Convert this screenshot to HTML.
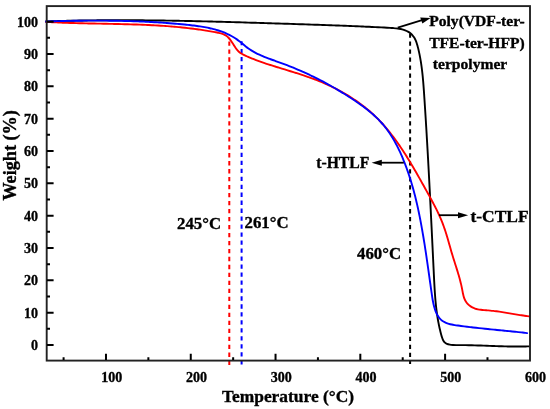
<!DOCTYPE html>
<html><head><meta charset="utf-8"><style>
html,body{margin:0;padding:0;background:#fff;}
svg{display:block;filter:blur(0.3px);}
text{font-family:"Liberation Serif","Times New Roman",serif;font-weight:bold;fill:#000;stroke:#000;stroke-width:0.35px;}
</style></head><body>
<svg width="550" height="409" viewBox="0 0 550 409">
<rect width="550" height="409" fill="#fff"/>
<g fill="none" stroke-width="2">
<path d="M229.3,39.5 V365" stroke="#ff0000" stroke-dasharray="4.3,3.68" stroke-dashoffset="6.08"/>
<path d="M241.6,41.2 V365" stroke="#0000ff" stroke-dasharray="4.3,3.68" stroke-dashoffset="0.20"/>
<path d="M410.1,33.2 V364" stroke="#000" stroke-dasharray="4.3,3.68" stroke-dashoffset="7.66"/>
</g>
<g fill="none" stroke-width="1.9" stroke-linejoin="round" stroke-linecap="round">
<path d="M45.99,21.46 C46.50,21.44 48.01,21.39 49.02,21.35 C50.02,21.32 51.03,21.29 52.04,21.25 C53.05,21.22 54.05,21.19 55.06,21.16 C56.07,21.13 57.07,21.10 58.08,21.07 C59.09,21.04 60.10,21.01 61.10,20.98 C62.11,20.95 63.12,20.92 64.12,20.90 C65.13,20.87 66.14,20.85 67.15,20.82 C68.15,20.80 69.16,20.77 70.17,20.75 C71.17,20.73 72.18,20.71 73.19,20.68 C74.19,20.66 75.20,20.64 76.21,20.62 C77.21,20.60 78.22,20.58 79.23,20.57 C80.24,20.55 81.24,20.53 82.25,20.51 C83.26,20.50 84.26,20.48 85.27,20.46 C86.28,20.45 87.28,20.43 88.29,20.42 C89.30,20.41 90.30,20.39 91.31,20.38 C92.32,20.37 93.32,20.36 94.33,20.35 C95.34,20.33 96.34,20.32 97.35,20.31 C98.36,20.30 99.36,20.30 100.37,20.29 C101.38,20.28 102.38,20.27 103.39,20.26 C104.40,20.26 105.40,20.25 106.41,20.24 C107.42,20.24 108.42,20.23 109.43,20.23 C110.44,20.23 111.44,20.22 112.45,20.22 C113.46,20.22 114.46,20.21 115.47,20.21 C116.48,20.21 117.48,20.21 118.49,20.21 C119.50,20.21 120.50,20.21 121.51,20.21 C122.52,20.21 123.52,20.21 124.53,20.21 C125.53,20.21 126.54,20.21 127.55,20.22 C128.55,20.22 129.56,20.22 130.57,20.23 C131.57,20.23 132.58,20.24 133.59,20.24 C134.59,20.25 135.60,20.25 136.61,20.26 C137.61,20.27 138.62,20.27 139.62,20.28 C140.63,20.29 141.64,20.29 142.64,20.30 C143.65,20.31 144.66,20.32 145.66,20.33 C146.67,20.34 147.68,20.35 148.68,20.36 C149.69,20.37 150.70,20.38 151.70,20.39 C152.71,20.40 153.71,20.41 154.72,20.43 C155.73,20.44 156.73,20.45 157.74,20.47 C158.75,20.48 159.75,20.49 160.76,20.51 C161.76,20.52 162.77,20.54 163.78,20.55 C164.78,20.57 165.79,20.58 166.80,20.60 C167.80,20.61 168.81,20.63 169.82,20.65 C170.82,20.66 171.83,20.68 172.83,20.70 C173.84,20.71 174.85,20.73 175.85,20.75 C176.86,20.77 177.87,20.79 178.87,20.81 C179.88,20.83 180.88,20.85 181.89,20.87 C182.90,20.88 183.90,20.91 184.91,20.93 C185.92,20.95 186.92,20.97 187.93,20.99 C188.94,21.01 189.94,21.03 190.95,21.05 C191.95,21.08 192.96,21.10 193.97,21.12 C194.97,21.14 195.98,21.17 196.99,21.19 C197.99,21.21 199.00,21.24 200.00,21.26 C201.01,21.28 202.02,21.31 203.02,21.33 C204.03,21.36 205.04,21.38 206.04,21.41 C207.05,21.43 208.06,21.46 209.06,21.48 C210.07,21.51 211.07,21.53 212.08,21.56 C213.09,21.59 214.09,21.61 215.10,21.64 C216.11,21.67 217.11,21.69 218.12,21.72 C219.13,21.75 220.13,21.77 221.14,21.80 C222.14,21.83 223.15,21.86 224.16,21.88 C225.16,21.91 226.17,21.94 227.18,21.97 C228.18,22.00 229.19,22.03 230.20,22.05 C231.20,22.08 232.21,22.11 233.21,22.14 C234.22,22.17 235.23,22.20 236.23,22.23 C237.24,22.26 238.25,22.29 239.25,22.32 C240.26,22.35 241.27,22.38 242.27,22.41 C243.28,22.44 244.29,22.47 245.29,22.50 C246.30,22.53 247.31,22.56 248.31,22.59 C249.32,22.62 250.33,22.65 251.33,22.68 C252.34,22.71 253.34,22.74 254.35,22.77 C255.36,22.80 256.36,22.83 257.37,22.87 C258.38,22.90 259.38,22.93 260.39,22.96 C261.40,22.99 262.40,23.02 263.41,23.05 C264.42,23.09 265.42,23.12 266.43,23.15 C267.44,23.18 268.44,23.21 269.45,23.24 C270.46,23.27 271.46,23.31 272.47,23.34 C273.48,23.37 274.48,23.40 275.49,23.43 C276.50,23.47 277.50,23.50 278.51,23.53 C279.52,23.56 280.53,23.59 281.53,23.62 C282.54,23.66 283.55,23.69 284.55,23.72 C285.56,23.75 286.57,23.78 287.57,23.81 C288.58,23.85 289.59,23.88 290.59,23.91 C291.60,23.94 292.61,23.97 293.61,24.01 C294.62,24.04 295.63,24.07 296.63,24.10 C297.64,24.14 298.65,24.17 299.66,24.20 C300.66,24.23 301.67,24.26 302.68,24.30 C303.68,24.33 304.69,24.36 305.70,24.40 C306.70,24.43 307.71,24.46 308.72,24.50 C309.72,24.53 310.73,24.56 311.74,24.60 C312.74,24.63 313.75,24.66 314.76,24.70 C315.76,24.73 316.77,24.77 317.78,24.80 C318.78,24.83 319.79,24.87 320.80,24.90 C321.80,24.94 322.81,24.97 323.81,25.01 C324.82,25.04 325.83,25.08 326.83,25.12 C327.84,25.15 328.85,25.19 329.85,25.22 C330.86,25.26 331.86,25.30 332.87,25.33 C333.88,25.37 334.88,25.41 335.89,25.44 C336.89,25.48 337.90,25.52 338.91,25.56 C339.91,25.60 340.92,25.63 341.92,25.67 C342.93,25.71 343.93,25.75 344.94,25.79 C345.94,25.83 346.95,25.87 347.96,25.91 C348.96,25.95 349.97,25.99 350.97,26.03 C351.98,26.07 352.98,26.12 353.99,26.16 C354.99,26.20 356.00,26.24 357.00,26.28 C358.01,26.33 359.01,26.37 360.01,26.41 C361.02,26.46 362.02,26.50 363.03,26.55 C364.03,26.59 365.04,26.64 366.04,26.68 C367.04,26.73 368.05,26.77 369.05,26.82 C370.06,26.87 371.06,26.91 372.06,26.96 C373.07,27.01 374.07,27.06 375.07,27.10 C376.08,27.15 377.08,27.20 378.08,27.25 C379.09,27.30 380.09,27.35 381.09,27.40 C382.10,27.45 383.10,27.50 384.10,27.55 C385.11,27.61 386.11,27.66 387.11,27.71 C388.11,27.77 389.11,27.82 390.12,27.87 C391.12,27.93 392.12,27.98 393.12,28.05 C394.13,28.13 395.13,28.20 396.14,28.32 C397.14,28.44 398.15,28.57 399.16,28.76 C400.17,28.94 401.19,29.16 402.19,29.43 C403.18,29.71 404.19,30.02 405.15,30.39 C406.10,30.77 407.05,31.19 407.93,31.67 C408.81,32.15 409.66,32.68 410.42,33.28 C411.19,33.88 411.90,34.54 412.53,35.26 C413.16,35.98 413.71,36.76 414.22,37.58 C414.73,38.40 415.17,39.28 415.57,40.18 C415.98,41.08 416.33,42.02 416.65,42.97 C416.98,43.93 417.26,44.92 417.54,45.90 C417.81,46.89 418.06,47.89 418.30,48.89 C418.54,49.88 418.77,50.88 418.99,51.88 C419.21,52.88 419.42,53.88 419.62,54.87 C419.82,55.87 420.01,56.87 420.19,57.87 C420.38,58.87 420.55,59.87 420.71,60.87 C420.88,61.87 421.03,62.87 421.18,63.87 C421.33,64.87 421.47,65.87 421.61,66.87 C421.74,67.87 421.87,68.87 421.99,69.88 C422.12,70.88 422.23,71.88 422.34,72.88 C422.45,73.88 422.56,74.88 422.66,75.89 C422.76,76.89 422.85,77.89 422.94,78.89 C423.03,79.90 423.12,80.90 423.21,81.90 C423.29,82.90 423.37,83.91 423.45,84.91 C423.53,85.91 423.60,86.92 423.67,87.92 C423.75,88.92 423.82,89.92 423.89,90.93 C423.96,91.93 424.03,92.93 424.10,93.94 C424.16,94.94 424.23,95.94 424.30,96.95 C424.37,97.95 424.43,98.95 424.50,99.96 C424.57,100.96 424.63,101.96 424.70,102.97 C424.76,103.97 424.83,104.97 424.89,105.98 C424.96,106.98 425.02,107.98 425.09,108.98 C425.15,109.99 425.22,110.99 425.28,111.99 C425.34,113.00 425.41,114.00 425.47,115.00 C425.53,116.01 425.60,117.01 425.66,118.01 C425.72,119.02 425.79,120.02 425.85,121.02 C425.91,122.03 425.97,123.03 426.03,124.03 C426.09,125.04 426.15,126.04 426.22,127.04 C426.28,128.05 426.34,129.05 426.40,130.05 C426.46,131.06 426.52,132.06 426.58,133.07 C426.64,134.07 426.70,135.07 426.75,136.08 C426.81,137.08 426.87,138.08 426.93,139.09 C426.99,140.09 427.05,141.09 427.11,142.10 C427.16,143.10 427.22,144.10 427.28,145.11 C427.34,146.11 427.39,147.12 427.45,148.12 C427.51,149.12 427.57,150.13 427.62,151.13 C427.68,152.14 427.74,153.14 427.79,154.14 C427.85,155.15 427.90,156.15 427.96,157.15 C428.02,158.16 428.07,159.16 428.13,160.17 C428.18,161.17 428.24,162.18 428.29,163.18 C428.35,164.18 428.40,165.19 428.46,166.19 C428.51,167.20 428.56,168.20 428.62,169.20 C428.67,170.21 428.73,171.21 428.78,172.22 C428.83,173.22 428.89,174.23 428.94,175.23 C428.99,176.24 429.05,177.24 429.10,178.24 C429.15,179.25 429.21,180.25 429.26,181.26 C429.31,182.26 429.36,183.27 429.42,184.27 C429.47,185.28 429.52,186.28 429.57,187.29 C429.62,188.29 429.68,189.30 429.73,190.30 C429.78,191.31 429.83,192.31 429.88,193.32 C429.93,194.32 429.98,195.33 430.04,196.33 C430.09,197.34 430.14,198.34 430.19,199.35 C430.24,200.35 430.29,201.36 430.34,202.36 C430.39,203.37 430.44,204.37 430.49,205.38 C430.54,206.39 430.59,207.39 430.64,208.40 C430.69,209.40 430.74,210.41 430.79,211.41 C430.84,212.42 430.89,213.43 430.94,214.43 C430.99,215.44 431.04,216.44 431.09,217.45 C431.14,218.46 431.19,219.46 431.24,220.47 C431.29,221.47 431.34,222.48 431.39,223.49 C431.44,224.49 431.49,225.50 431.54,226.51 C431.59,227.51 431.64,228.52 431.69,229.53 C431.74,230.53 431.78,231.54 431.83,232.55 C431.88,233.55 431.93,234.56 431.98,235.57 C432.03,236.57 432.08,237.58 432.13,238.59 C432.18,239.59 432.22,240.60 432.27,241.61 C432.32,242.62 432.37,243.62 432.42,244.63 C432.47,245.64 432.52,246.65 432.57,247.65 C432.61,248.66 432.66,249.67 432.71,250.68 C432.76,251.68 432.81,252.69 432.86,253.70 C432.91,254.71 432.96,255.72 433.00,256.72 C433.05,257.73 433.10,258.74 433.15,259.75 C433.20,260.76 433.25,261.77 433.30,262.77 C433.34,263.78 433.39,264.79 433.44,265.80 C433.49,266.81 433.54,267.82 433.59,268.83 C433.64,269.83 433.69,270.84 433.74,271.85 C433.78,272.86 433.83,273.87 433.88,274.88 C433.93,275.89 433.98,276.90 434.03,277.91 C434.08,278.92 434.13,279.93 434.18,280.93 C434.23,281.94 434.29,282.95 434.34,283.96 C434.39,284.97 434.45,285.98 434.51,286.99 C434.57,288.00 434.63,289.00 434.69,290.01 C434.75,291.02 434.82,292.02 434.89,293.03 C434.96,294.04 435.03,295.04 435.11,296.05 C435.18,297.05 435.26,298.06 435.35,299.06 C435.43,300.06 435.52,301.07 435.62,302.07 C435.71,303.07 435.81,304.07 435.91,305.07 C436.02,306.07 436.13,307.07 436.24,308.07 C436.36,309.06 436.48,310.06 436.61,311.06 C436.74,312.05 436.87,313.04 437.02,314.04 C437.16,315.03 437.31,316.02 437.46,317.01 C437.62,318.00 437.78,318.99 437.96,319.97 C438.13,320.96 438.31,321.95 438.50,322.93 C438.69,323.91 438.89,324.89 439.09,325.87 C439.30,326.85 439.52,327.83 439.74,328.81 C439.97,329.78 440.20,330.76 440.45,331.73 C440.70,332.70 440.95,333.67 441.22,334.64 C441.49,335.60 441.75,336.59 442.07,337.52 C442.39,338.45 442.72,339.38 443.15,340.20 C443.59,341.01 444.07,341.79 444.70,342.42 C445.33,343.04 446.08,343.54 446.94,343.92 C447.79,344.30 448.82,344.51 449.82,344.69 C450.83,344.88 451.91,344.95 452.96,345.02 C454.01,345.09 455.08,345.11 456.15,345.12 C457.21,345.14 458.28,345.12 459.34,345.12 C460.39,345.13 461.45,345.13 462.50,345.13 C463.54,345.14 464.59,345.15 465.62,345.16 C466.66,345.17 467.69,345.19 468.72,345.21 C469.75,345.23 470.78,345.25 471.80,345.27 C472.82,345.30 473.83,345.32 474.84,345.35 C475.86,345.38 476.87,345.41 477.87,345.44 C478.88,345.47 479.88,345.51 480.88,345.54 C481.88,345.57 482.88,345.61 483.88,345.65 C484.88,345.68 485.87,345.72 486.86,345.76 C487.86,345.79 488.85,345.83 489.84,345.87 C490.83,345.90 491.82,345.94 492.81,345.98 C493.80,346.01 494.78,346.05 495.77,346.09 C496.76,346.12 497.75,346.16 498.74,346.19 C499.73,346.22 500.72,346.25 501.71,346.28 C502.70,346.31 503.69,346.34 504.68,346.37 C505.68,346.39 506.67,346.42 507.67,346.44 C508.66,346.46 509.66,346.48 510.66,346.49 C511.66,346.51 512.67,346.52 513.67,346.53 C514.68,346.54 515.69,346.55 516.70,346.55 C517.71,346.55 518.73,346.55 519.75,346.54 C520.77,346.54 521.79,346.53 522.82,346.51 C523.85,346.50 524.88,346.48 525.92,346.46 C526.96,346.43 528.53,346.38 529.05,346.37" stroke="#000"/>
<path d="M45.99,21.87 C46.50,21.90 48.00,21.99 49.01,22.04 C50.01,22.10 51.02,22.15 52.02,22.20 C53.03,22.26 54.04,22.31 55.04,22.35 C56.05,22.40 57.05,22.45 58.06,22.49 C59.07,22.54 60.07,22.58 61.08,22.62 C62.09,22.66 63.09,22.70 64.10,22.74 C65.11,22.78 66.11,22.81 67.12,22.85 C68.13,22.89 69.14,22.92 70.14,22.95 C71.15,22.98 72.16,23.02 73.17,23.05 C74.17,23.08 75.18,23.10 76.19,23.13 C77.20,23.16 78.21,23.19 79.21,23.21 C80.22,23.24 81.23,23.26 82.24,23.29 C83.25,23.31 84.26,23.34 85.26,23.36 C86.27,23.38 87.28,23.41 88.29,23.43 C89.30,23.45 90.31,23.47 91.32,23.49 C92.32,23.51 93.33,23.53 94.34,23.55 C95.35,23.57 96.36,23.59 97.37,23.61 C98.38,23.63 99.39,23.65 100.40,23.67 C101.40,23.69 102.41,23.71 103.42,23.73 C104.43,23.75 105.44,23.77 106.45,23.79 C107.46,23.81 108.47,23.83 109.48,23.85 C110.49,23.87 111.49,23.89 112.50,23.91 C113.51,23.93 114.52,23.95 115.53,23.97 C116.54,23.99 117.55,24.01 118.56,24.04 C119.57,24.06 120.58,24.08 121.59,24.11 C122.59,24.13 123.60,24.16 124.61,24.18 C125.62,24.21 126.63,24.24 127.64,24.26 C128.65,24.29 129.66,24.32 130.66,24.35 C131.67,24.38 132.68,24.41 133.69,24.45 C134.70,24.48 135.71,24.51 136.72,24.55 C137.72,24.58 138.73,24.62 139.74,24.66 C140.75,24.69 141.76,24.73 142.77,24.77 C143.77,24.82 144.78,24.86 145.79,24.90 C146.80,24.95 147.80,24.99 148.81,25.04 C149.82,25.09 150.83,25.14 151.83,25.19 C152.84,25.24 153.85,25.30 154.86,25.35 C155.86,25.41 156.87,25.46 157.88,25.52 C158.88,25.58 159.89,25.65 160.90,25.71 C161.90,25.78 162.91,25.84 163.92,25.91 C164.92,25.98 165.93,26.05 166.93,26.13 C167.94,26.20 168.95,26.28 169.95,26.36 C170.96,26.44 171.96,26.52 172.97,26.61 C173.97,26.69 174.98,26.78 175.98,26.87 C176.99,26.96 177.99,27.05 178.99,27.15 C180.00,27.25 181.00,27.35 182.01,27.45 C183.01,27.55 184.01,27.66 185.02,27.77 C186.02,27.88 187.02,27.99 188.03,28.11 C189.03,28.22 190.03,28.34 191.03,28.46 C192.04,28.59 193.04,28.71 194.04,28.84 C195.04,28.97 196.04,29.11 197.05,29.25 C198.05,29.38 199.05,29.52 200.05,29.67 C201.05,29.81 202.05,29.96 203.05,30.12 C204.05,30.27 205.05,30.43 206.05,30.59 C207.05,30.75 208.05,30.91 209.05,31.08 C210.05,31.25 211.05,31.43 212.05,31.60 C213.04,31.78 214.04,31.96 215.04,32.15 C216.04,32.34 217.04,32.52 218.03,32.73 C219.01,32.95 220.00,33.16 220.95,33.44 C221.90,33.72 222.85,34.02 223.73,34.41 C224.62,34.81 225.48,35.25 226.28,35.80 C227.08,36.35 227.82,37.00 228.52,37.71 C229.22,38.43 229.86,39.25 230.48,40.08 C231.10,40.91 231.68,41.82 232.26,42.70 C232.84,43.59 233.38,44.50 233.95,45.38 C234.52,46.26 235.08,47.15 235.68,47.98 C236.28,48.81 236.89,49.63 237.56,50.36 C238.23,51.10 238.94,51.78 239.71,52.40 C240.48,53.01 241.32,53.54 242.18,54.05 C243.03,54.56 243.94,55.00 244.85,55.43 C245.76,55.87 246.70,56.27 247.62,56.67 C248.55,57.07 249.49,57.46 250.42,57.85 C251.36,58.23 252.29,58.61 253.23,58.98 C254.17,59.35 255.11,59.71 256.05,60.07 C257.00,60.42 257.94,60.77 258.89,61.12 C259.83,61.46 260.78,61.80 261.73,62.13 C262.68,62.46 263.63,62.79 264.58,63.12 C265.53,63.44 266.49,63.76 267.44,64.07 C268.40,64.39 269.35,64.70 270.31,65.01 C271.27,65.31 272.22,65.62 273.18,65.92 C274.14,66.22 275.10,66.52 276.06,66.82 C277.02,67.12 277.98,67.41 278.94,67.71 C279.90,68.00 280.86,68.29 281.83,68.59 C282.79,68.88 283.75,69.17 284.71,69.46 C285.67,69.75 286.63,70.05 287.60,70.34 C288.56,70.63 289.52,70.92 290.48,71.22 C291.44,71.51 292.40,71.81 293.37,72.10 C294.33,72.40 295.29,72.70 296.25,73.00 C297.21,73.30 298.17,73.61 299.12,73.91 C300.08,74.22 301.04,74.53 302.00,74.85 C302.95,75.16 303.91,75.48 304.86,75.80 C305.82,76.12 306.77,76.45 307.72,76.78 C308.67,77.12 309.63,77.45 310.57,77.80 C311.52,78.14 312.47,78.49 313.42,78.84 C314.36,79.20 315.31,79.56 316.25,79.93 C317.19,80.30 318.13,80.67 319.07,81.05 C320.01,81.43 320.95,81.82 321.88,82.22 C322.81,82.61 323.75,83.02 324.67,83.42 C325.60,83.83 326.53,84.25 327.45,84.67 C328.38,85.09 329.30,85.52 330.21,85.96 C331.13,86.40 332.04,86.84 332.96,87.29 C333.87,87.74 334.77,88.20 335.68,88.66 C336.58,89.12 337.48,89.59 338.38,90.07 C339.27,90.55 340.17,91.03 341.05,91.53 C341.94,92.02 342.83,92.52 343.71,93.02 C344.58,93.53 345.46,94.04 346.33,94.56 C347.20,95.08 348.07,95.61 348.93,96.14 C349.79,96.67 350.64,97.21 351.50,97.76 C352.35,98.31 353.19,98.87 354.03,99.43 C354.87,99.99 355.71,100.56 356.54,101.13 C357.37,101.71 358.19,102.29 359.01,102.89 C359.82,103.48 360.64,104.07 361.44,104.68 C362.25,105.28 363.05,105.90 363.84,106.52 C364.63,107.13 365.42,107.76 366.20,108.39 C366.98,109.03 367.75,109.67 368.52,110.32 C369.29,110.97 370.05,111.62 370.80,112.29 C371.55,112.95 372.29,113.62 373.03,114.30 C373.77,114.97 374.50,115.66 375.22,116.35 C375.95,117.04 376.66,117.74 377.37,118.45 C378.08,119.16 378.78,119.87 379.47,120.59 C380.16,121.31 380.85,122.04 381.53,122.77 C382.21,123.50 382.88,124.24 383.55,124.99 C384.22,125.74 384.87,126.49 385.53,127.25 C386.18,128.01 386.83,128.77 387.47,129.54 C388.11,130.31 388.75,131.08 389.38,131.87 C390.00,132.65 390.63,133.43 391.25,134.22 C391.86,135.01 392.48,135.81 393.08,136.61 C393.69,137.41 394.29,138.22 394.89,139.03 C395.48,139.84 396.07,140.65 396.66,141.47 C397.25,142.29 397.83,143.12 398.41,143.94 C398.98,144.77 399.56,145.60 400.12,146.44 C400.69,147.27 401.26,148.11 401.82,148.95 C402.37,149.79 402.93,150.64 403.48,151.49 C404.03,152.34 404.58,153.19 405.13,154.04 C405.67,154.90 406.21,155.76 406.75,156.62 C407.28,157.48 407.82,158.34 408.35,159.20 C408.88,160.07 409.41,160.94 409.93,161.81 C410.45,162.67 410.98,163.55 411.50,164.42 C412.01,165.29 412.53,166.17 413.04,167.04 C413.56,167.92 414.07,168.80 414.58,169.68 C415.09,170.56 415.60,171.44 416.10,172.32 C416.61,173.20 417.11,174.08 417.61,174.97 C418.11,175.85 418.61,176.73 419.11,177.62 C419.61,178.50 420.11,179.38 420.60,180.27 C421.10,181.15 421.59,182.04 422.09,182.92 C422.58,183.81 423.07,184.69 423.56,185.57 C424.06,186.46 424.55,187.34 425.04,188.22 C425.53,189.11 426.02,189.99 426.51,190.87 C427.00,191.75 427.49,192.63 427.98,193.51 C428.47,194.39 428.95,195.27 429.44,196.15 C429.92,197.03 430.40,197.91 430.88,198.79 C431.36,199.68 431.84,200.56 432.31,201.44 C432.78,202.33 433.25,203.21 433.72,204.10 C434.18,204.98 434.64,205.87 435.10,206.76 C435.55,207.65 436.00,208.55 436.45,209.44 C436.89,210.34 437.33,211.24 437.76,212.14 C438.19,213.04 438.61,213.94 439.03,214.85 C439.45,215.76 439.85,216.67 440.25,217.59 C440.65,218.51 441.05,219.43 441.43,220.36 C441.81,221.28 442.19,222.21 442.55,223.15 C442.91,224.09 443.27,225.03 443.61,225.97 C443.95,226.92 444.29,227.87 444.61,228.83 C444.94,229.79 445.25,230.75 445.57,231.71 C445.88,232.67 446.18,233.64 446.48,234.61 C446.77,235.58 447.07,236.56 447.35,237.53 C447.64,238.50 447.93,239.48 448.21,240.46 C448.49,241.43 448.77,242.41 449.04,243.39 C449.32,244.37 449.60,245.35 449.87,246.32 C450.15,247.30 450.43,248.28 450.71,249.25 C450.98,250.22 451.26,251.20 451.54,252.17 C451.83,253.14 452.11,254.10 452.40,255.07 C452.69,256.03 452.99,256.99 453.28,257.95 C453.58,258.91 453.88,259.86 454.19,260.81 C454.49,261.77 454.79,262.72 455.10,263.67 C455.40,264.62 455.70,265.57 456.01,266.52 C456.31,267.47 456.61,268.42 456.91,269.37 C457.21,270.32 457.51,271.28 457.80,272.23 C458.09,273.19 458.38,274.14 458.66,275.11 C458.94,276.07 459.21,277.03 459.48,278.00 C459.75,278.97 460.01,279.94 460.26,280.92 C460.51,281.90 460.76,282.89 460.99,283.88 C461.22,284.87 461.44,285.86 461.65,286.87 C461.86,287.87 462.05,288.89 462.25,289.90 C462.45,290.92 462.62,291.94 462.83,292.95 C463.05,293.96 463.26,294.96 463.53,295.94 C463.81,296.91 464.11,297.87 464.49,298.79 C464.87,299.71 465.31,300.60 465.84,301.43 C466.36,302.27 466.97,303.06 467.63,303.79 C468.29,304.52 469.03,305.20 469.81,305.80 C470.59,306.40 471.43,306.94 472.30,307.40 C473.16,307.85 474.08,308.22 475.02,308.54 C475.95,308.86 476.93,309.10 477.92,309.32 C478.91,309.53 479.93,309.68 480.95,309.81 C481.97,309.95 483.01,310.04 484.05,310.13 C485.09,310.22 486.14,310.28 487.17,310.35 C488.21,310.43 489.25,310.50 490.27,310.59 C491.29,310.68 492.30,310.78 493.30,310.89 C494.31,311.00 495.30,311.13 496.29,311.26 C497.28,311.39 498.27,311.53 499.25,311.67 C500.24,311.82 501.22,311.97 502.20,312.12 C503.18,312.28 504.16,312.44 505.15,312.60 C506.13,312.77 507.12,312.93 508.11,313.10 C509.11,313.27 510.10,313.44 511.10,313.60 C512.10,313.77 513.11,313.94 514.11,314.11 C515.12,314.27 516.12,314.44 517.13,314.60 C518.13,314.77 519.14,314.93 520.14,315.09 C521.14,315.25 522.15,315.40 523.15,315.55 C524.14,315.70 525.14,315.85 526.13,315.99 C527.13,316.13 528.60,316.33 529.10,316.40" stroke="#ff0000"/>
<path d="M45.98,21.43 C46.49,21.42 48.02,21.37 49.04,21.35 C50.05,21.32 51.07,21.29 52.09,21.26 C53.10,21.24 54.12,21.21 55.13,21.18 C56.15,21.16 57.16,21.13 58.18,21.11 C59.19,21.09 60.21,21.06 61.22,21.04 C62.23,21.02 63.24,20.99 64.25,20.97 C65.27,20.95 66.28,20.93 67.29,20.91 C68.30,20.89 69.31,20.87 70.32,20.86 C71.33,20.84 72.34,20.82 73.35,20.81 C74.36,20.79 75.36,20.77 76.37,20.76 C77.38,20.75 78.39,20.73 79.40,20.72 C80.40,20.71 81.41,20.70 82.42,20.69 C83.42,20.68 84.43,20.67 85.43,20.66 C86.44,20.65 87.45,20.64 88.45,20.64 C89.46,20.63 90.46,20.63 91.47,20.62 C92.47,20.62 93.47,20.62 94.48,20.61 C95.48,20.61 96.49,20.61 97.49,20.61 C98.49,20.61 99.50,20.62 100.50,20.62 C101.50,20.62 102.51,20.63 103.51,20.63 C104.51,20.64 105.51,20.64 106.52,20.65 C107.52,20.66 108.52,20.67 109.52,20.68 C110.52,20.69 111.53,20.70 112.53,20.72 C113.53,20.73 114.53,20.75 115.53,20.76 C116.54,20.78 117.54,20.80 118.54,20.82 C119.54,20.84 120.54,20.86 121.54,20.88 C122.55,20.90 123.55,20.92 124.55,20.95 C125.55,20.97 126.55,21.00 127.55,21.03 C128.56,21.06 129.56,21.09 130.56,21.12 C131.56,21.15 132.56,21.18 133.56,21.22 C134.57,21.25 135.57,21.29 136.57,21.33 C137.57,21.36 138.58,21.40 139.58,21.44 C140.58,21.49 141.58,21.53 142.59,21.57 C143.59,21.62 144.59,21.66 145.59,21.71 C146.60,21.76 147.60,21.81 148.60,21.86 C149.61,21.91 150.61,21.97 151.62,22.02 C152.62,22.08 153.62,22.13 154.63,22.19 C155.63,22.25 156.64,22.31 157.64,22.38 C158.65,22.44 159.65,22.50 160.66,22.57 C161.67,22.64 162.67,22.71 163.68,22.78 C164.69,22.85 165.69,22.92 166.70,22.99 C167.71,23.07 168.72,23.15 169.72,23.22 C170.73,23.30 171.74,23.38 172.75,23.47 C173.76,23.55 174.77,23.63 175.78,23.72 C176.79,23.81 177.80,23.90 178.81,23.99 C179.82,24.08 180.83,24.17 181.84,24.27 C182.86,24.37 183.87,24.46 184.88,24.56 C185.89,24.66 186.91,24.77 187.92,24.87 C188.93,24.98 189.95,25.09 190.96,25.20 C191.97,25.31 192.99,25.43 194.00,25.56 C195.01,25.68 196.02,25.81 197.03,25.95 C198.03,26.08 199.04,26.23 200.04,26.38 C201.05,26.53 202.05,26.69 203.04,26.86 C204.04,27.03 205.04,27.21 206.03,27.40 C207.02,27.59 208.01,27.79 208.99,28.00 C209.97,28.22 210.95,28.44 211.92,28.68 C212.90,28.92 213.86,29.16 214.83,29.43 C215.79,29.69 216.75,29.97 217.70,30.27 C218.65,30.56 219.59,30.87 220.53,31.20 C221.47,31.53 222.40,31.87 223.32,32.23 C224.25,32.59 225.16,32.97 226.07,33.37 C226.98,33.77 227.88,34.18 228.77,34.62 C229.66,35.06 230.54,35.51 231.41,35.99 C232.29,36.47 233.15,36.97 234.01,37.50 C234.86,38.02 235.70,38.57 236.54,39.14 C237.37,39.71 238.19,40.30 239.00,40.92 C239.81,41.54 240.60,42.18 241.39,42.83 C242.17,43.48 242.93,44.16 243.71,44.81 C244.48,45.45 245.25,46.10 246.04,46.71 C246.83,47.33 247.63,47.92 248.44,48.49 C249.25,49.06 250.07,49.60 250.90,50.13 C251.73,50.66 252.58,51.17 253.43,51.66 C254.29,52.15 255.16,52.62 256.03,53.07 C256.91,53.53 257.80,53.97 258.70,54.39 C259.60,54.82 260.51,55.23 261.42,55.63 C262.33,56.03 263.26,56.42 264.19,56.80 C265.12,57.18 266.05,57.55 266.99,57.91 C267.94,58.27 268.88,58.63 269.83,58.98 C270.78,59.33 271.73,59.67 272.69,60.01 C273.64,60.36 274.60,60.69 275.56,61.03 C276.52,61.37 277.48,61.71 278.43,62.05 C279.39,62.39 280.35,62.73 281.31,63.08 C282.26,63.42 283.21,63.77 284.16,64.13 C285.11,64.48 286.06,64.84 287.01,65.20 C287.95,65.56 288.89,65.93 289.83,66.30 C290.77,66.67 291.71,67.05 292.65,67.43 C293.58,67.81 294.52,68.19 295.45,68.58 C296.38,68.97 297.31,69.36 298.23,69.76 C299.16,70.15 300.08,70.56 301.00,70.96 C301.92,71.37 302.84,71.77 303.76,72.19 C304.68,72.60 305.59,73.02 306.51,73.44 C307.42,73.86 308.33,74.29 309.24,74.72 C310.15,75.15 311.05,75.58 311.96,76.02 C312.86,76.45 313.76,76.90 314.66,77.34 C315.56,77.79 316.46,78.24 317.35,78.69 C318.25,79.14 319.14,79.60 320.04,80.06 C320.93,80.52 321.82,80.99 322.71,81.46 C323.59,81.93 324.48,82.40 325.36,82.88 C326.25,83.36 327.13,83.84 328.01,84.32 C328.89,84.81 329.77,85.30 330.64,85.79 C331.52,86.28 332.39,86.78 333.27,87.28 C334.14,87.78 335.01,88.28 335.88,88.79 C336.75,89.30 337.62,89.81 338.48,90.32 C339.35,90.84 340.21,91.36 341.07,91.88 C341.94,92.40 342.80,92.93 343.66,93.46 C344.52,93.99 345.37,94.52 346.23,95.06 C347.08,95.59 347.94,96.13 348.79,96.68 C349.64,97.22 350.49,97.77 351.34,98.32 C352.19,98.87 353.04,99.43 353.88,99.99 C354.73,100.55 355.57,101.12 356.40,101.69 C357.24,102.26 358.07,102.83 358.90,103.41 C359.73,103.99 360.56,104.58 361.38,105.17 C362.19,105.76 363.01,106.36 363.82,106.96 C364.63,107.57 365.43,108.18 366.22,108.80 C367.02,109.42 367.81,110.04 368.59,110.68 C369.37,111.31 370.15,111.95 370.91,112.60 C371.68,113.25 372.44,113.90 373.19,114.57 C373.93,115.24 374.68,115.91 375.41,116.59 C376.14,117.28 376.86,117.97 377.57,118.67 C378.28,119.37 378.98,120.08 379.67,120.81 C380.36,121.53 381.03,122.26 381.70,123.00 C382.37,123.74 383.02,124.50 383.66,125.26 C384.30,126.03 384.93,126.80 385.55,127.59 C386.16,128.38 386.77,129.17 387.36,129.98 C387.95,130.79 388.53,131.61 389.10,132.43 C389.67,133.26 390.22,134.10 390.77,134.94 C391.31,135.79 391.85,136.64 392.37,137.50 C392.90,138.36 393.41,139.23 393.91,140.11 C394.42,140.98 394.91,141.87 395.39,142.76 C395.87,143.64 396.35,144.54 396.81,145.44 C397.28,146.34 397.73,147.25 398.18,148.16 C398.63,149.07 399.06,149.99 399.49,150.91 C399.92,151.83 400.35,152.75 400.76,153.68 C401.17,154.61 401.58,155.54 401.98,156.47 C402.38,157.40 402.77,158.34 403.16,159.28 C403.54,160.21 403.92,161.15 404.29,162.09 C404.67,163.03 405.03,163.98 405.39,164.92 C405.75,165.86 406.10,166.81 406.45,167.76 C406.80,168.71 407.14,169.65 407.47,170.60 C407.81,171.55 408.14,172.51 408.46,173.46 C408.78,174.41 409.10,175.37 409.41,176.32 C409.72,177.28 410.03,178.24 410.33,179.20 C410.63,180.16 410.93,181.12 411.22,182.08 C411.51,183.04 411.79,184.00 412.07,184.97 C412.35,185.93 412.63,186.90 412.90,187.86 C413.17,188.83 413.44,189.80 413.70,190.77 C413.96,191.74 414.22,192.71 414.47,193.68 C414.72,194.65 414.97,195.62 415.21,196.60 C415.46,197.57 415.70,198.55 415.93,199.52 C416.17,200.50 416.40,201.48 416.63,202.45 C416.86,203.43 417.08,204.41 417.30,205.39 C417.52,206.37 417.74,207.35 417.95,208.33 C418.17,209.31 418.38,210.30 418.59,211.28 C418.79,212.26 419.00,213.25 419.20,214.23 C419.40,215.22 419.60,216.20 419.79,217.19 C419.99,218.18 420.18,219.16 420.37,220.15 C420.56,221.14 420.75,222.13 420.93,223.12 C421.12,224.11 421.30,225.10 421.48,226.09 C421.66,227.08 421.84,228.07 422.01,229.06 C422.19,230.05 422.36,231.04 422.53,232.04 C422.70,233.03 422.87,234.02 423.04,235.02 C423.21,236.01 423.38,237.00 423.54,238.00 C423.70,238.99 423.87,239.99 424.03,240.98 C424.19,241.98 424.35,242.98 424.51,243.97 C424.66,244.97 424.82,245.96 424.97,246.96 C425.13,247.96 425.28,248.95 425.43,249.95 C425.59,250.95 425.74,251.95 425.89,252.94 C426.04,253.94 426.19,254.94 426.34,255.94 C426.48,256.93 426.63,257.93 426.78,258.93 C426.92,259.93 427.07,260.93 427.21,261.92 C427.36,262.92 427.50,263.92 427.64,264.92 C427.79,265.92 427.93,266.92 428.07,267.91 C428.21,268.91 428.36,269.91 428.50,270.91 C428.64,271.91 428.78,272.91 428.92,273.90 C429.06,274.90 429.20,275.90 429.34,276.90 C429.48,277.89 429.62,278.89 429.76,279.89 C429.90,280.89 430.04,281.88 430.18,282.88 C430.33,283.88 430.47,284.87 430.61,285.87 C430.75,286.87 430.89,287.86 431.03,288.86 C431.17,289.85 431.32,290.85 431.46,291.84 C431.60,292.84 431.74,293.83 431.89,294.83 C432.04,295.82 432.18,296.81 432.34,297.81 C432.49,298.80 432.65,299.79 432.84,300.78 C433.02,301.77 433.21,302.76 433.43,303.74 C433.65,304.73 433.89,305.71 434.16,306.69 C434.43,307.67 434.72,308.65 435.05,309.62 C435.39,310.59 435.75,311.57 436.16,312.51 C436.57,313.45 437.02,314.38 437.52,315.26 C438.02,316.13 438.56,316.98 439.16,317.75 C439.76,318.52 440.41,319.23 441.12,319.86 C441.83,320.49 442.61,321.04 443.42,321.54 C444.23,322.04 445.10,322.46 446.00,322.84 C446.90,323.21 447.84,323.53 448.80,323.82 C449.76,324.10 450.76,324.34 451.76,324.55 C452.76,324.77 453.80,324.94 454.82,325.11 C455.85,325.27 456.90,325.41 457.93,325.55 C458.97,325.70 460.00,325.82 461.03,325.96 C462.06,326.09 463.08,326.22 464.09,326.34 C465.11,326.47 466.12,326.60 467.12,326.72 C468.13,326.84 469.13,326.96 470.13,327.08 C471.13,327.20 472.12,327.32 473.12,327.44 C474.11,327.55 475.10,327.66 476.09,327.78 C477.08,327.89 478.07,328.00 479.05,328.11 C480.04,328.22 481.03,328.33 482.01,328.43 C483.00,328.54 483.99,328.65 484.98,328.75 C485.96,328.86 486.95,328.96 487.94,329.06 C488.93,329.16 489.93,329.26 490.92,329.37 C491.92,329.47 492.92,329.57 493.92,329.67 C494.92,329.77 495.93,329.86 496.93,329.96 C497.94,330.06 498.95,330.16 499.96,330.26 C500.97,330.35 501.99,330.45 503.00,330.55 C504.02,330.65 505.03,330.75 506.05,330.85 C507.06,330.95 508.08,331.04 509.09,331.15 C510.10,331.25 511.12,331.35 512.13,331.45 C513.14,331.55 514.15,331.65 515.16,331.76 C516.16,331.86 517.17,331.97 518.17,332.07 C519.17,332.18 520.17,332.29 521.16,332.40 C522.15,332.51 523.14,332.63 524.13,332.74 C525.11,332.85 526.58,333.03 527.07,333.09" stroke="#0000ff"/>
</g>
<rect x="46.7" y="6.1" width="483.3" height="354.5" fill="none" stroke="#222" stroke-width="1.9"/>
<path d="M63.59,360 V357.2 M105.98,360 V353.8 M148.37,360 V357.2 M190.76,360 V353.8 M233.15,360 V357.2 M275.54,360 V353.8 M317.93,360 V357.2 M360.32,360 V353.8 M402.71,360 V357.2 M445.10,360 V353.8 M487.49,360 V357.2 M47,345.00 H53.6 M47,328.83 H50.0 M47,312.67 H53.6 M47,296.50 H50.0 M47,280.34 H53.6 M47,264.18 H50.0 M47,248.01 H53.6 M47,231.84 H50.0 M47,215.68 H53.6 M47,199.51 H50.0 M47,183.35 H53.6 M47,167.19 H50.0 M47,151.02 H53.6 M47,134.85 H50.0 M47,118.69 H53.6 M47,102.53 H50.0 M47,86.36 H53.6 M47,70.19 H50.0 M47,54.03 H53.6 M47,37.87 H50.0 M47,21.70 H53.6" stroke="#000" stroke-width="2" fill="none"/>
<g font-size="15.3" style="stroke-width:0.15px"><text transform="translate(111.68,382.1) scale(0.92,1)" text-anchor="middle">100</text><text transform="translate(196.46,382.1) scale(0.92,1)" text-anchor="middle">200</text><text transform="translate(281.24,382.1) scale(0.92,1)" text-anchor="middle">300</text><text transform="translate(366.02,382.1) scale(0.92,1)" text-anchor="middle">400</text><text transform="translate(450.80,382.1) scale(0.92,1)" text-anchor="middle">500</text><text transform="translate(535.58,382.1) scale(0.92,1)" text-anchor="middle">600</text><text transform="translate(38.1,349.90) scale(0.92,1)" text-anchor="end">0</text><text transform="translate(38.1,317.57) scale(0.92,1)" text-anchor="end">10</text><text transform="translate(38.1,285.24) scale(0.92,1)" text-anchor="end">20</text><text transform="translate(38.1,252.91) scale(0.92,1)" text-anchor="end">30</text><text transform="translate(38.1,220.58) scale(0.92,1)" text-anchor="end">40</text><text transform="translate(38.1,188.25) scale(0.92,1)" text-anchor="end">50</text><text transform="translate(38.1,155.92) scale(0.92,1)" text-anchor="end">60</text><text transform="translate(38.1,123.59) scale(0.92,1)" text-anchor="end">70</text><text transform="translate(38.1,91.26) scale(0.92,1)" text-anchor="end">80</text><text transform="translate(38.1,58.93) scale(0.92,1)" text-anchor="end">90</text><text transform="translate(38.1,26.60) scale(0.92,1)" text-anchor="end">100</text></g>
<!-- arrows -->
<g stroke="#000" stroke-width="1.8" fill="none">
<path d="M397.7,27.6 L422,20.2"/>
<path d="M403.8,162.7 H380"/>
<path d="M439,215.2 H460"/>
</g>
<g fill="#000">
<path d="M430.6,18.1 L420.2,17.4 L422.4,23.6 Z"/>
<path d="M371.6,162.7 L381.8,159.7 L381.8,165.7 Z"/>
<path d="M468.2,215.2 L458,212.2 L458,218.2 Z"/>
</g>
<text x="429.2" y="26.1" font-size="15.6">Poly(VDF-ter-</text>
<text x="429.2" y="47.8" font-size="15.6">TFE-ter-HFP)</text>
<text x="432.8" y="69" font-size="15.6">terpolymer</text>
<text x="316.2" y="167.6" font-size="15.7">t-HTLF</text>
<text x="470.5" y="221.7" font-size="17.45">t-CTLF</text>
<text x="177" y="228.6" font-size="16.8">245°C</text>
<text x="244.5" y="228.3" font-size="16.8">261°C</text>
<text x="357" y="259.2" font-size="16.8">460°C</text>
<text x="222" y="401.5" font-size="17.4">Temperature (°C)</text>
<text transform="translate(16.3,200.6) rotate(-90)" font-size="18.2">Weight (%)</text>
</svg>
</body></html>
